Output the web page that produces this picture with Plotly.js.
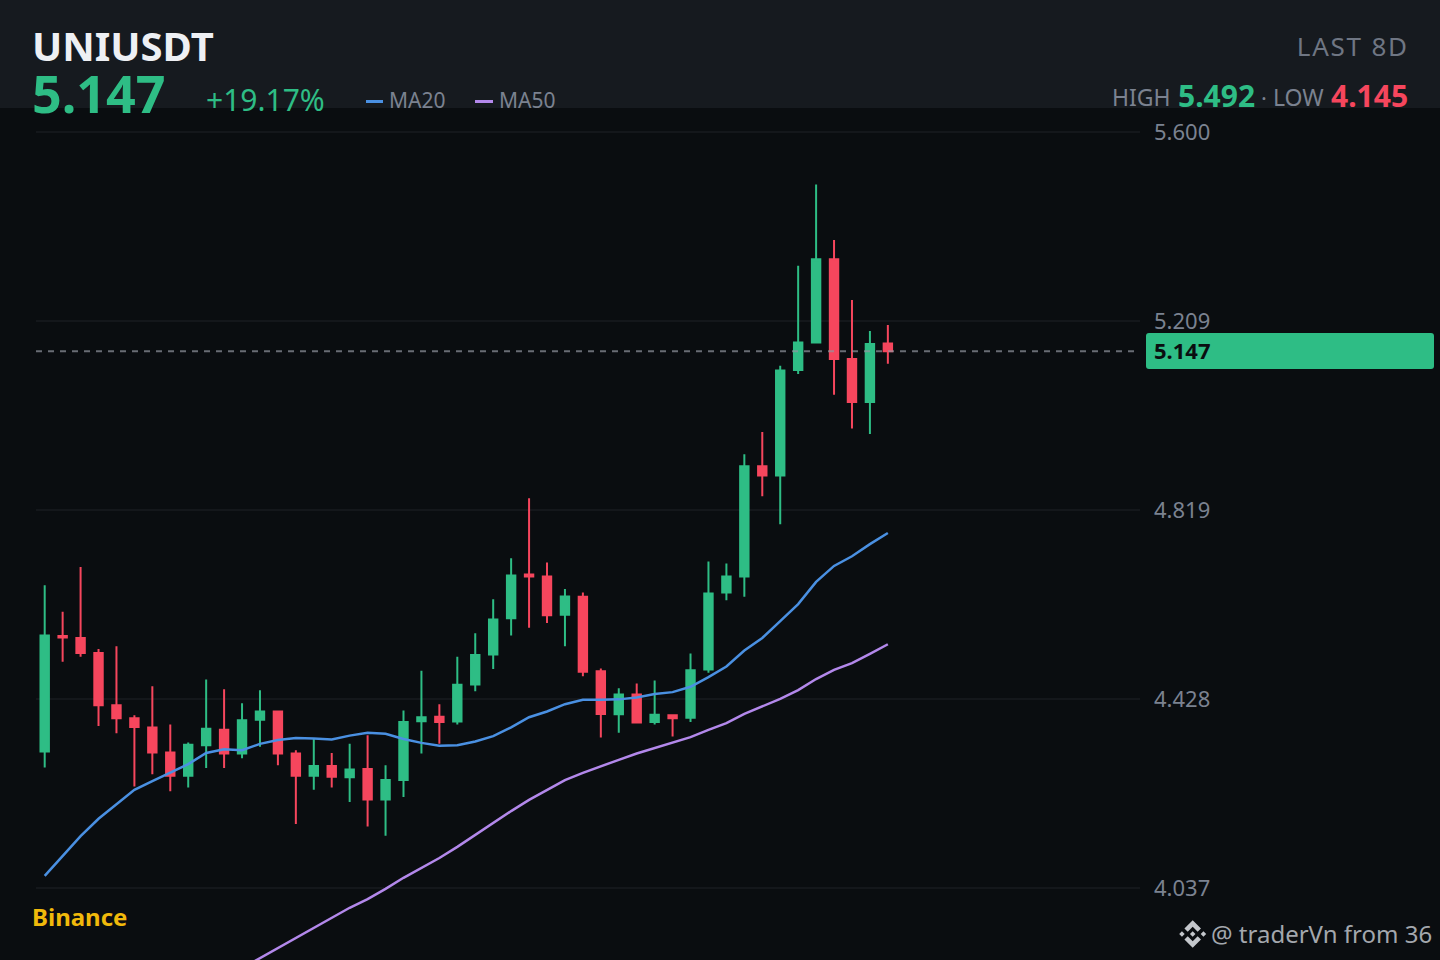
<!DOCTYPE html>
<html>
<head>
<meta charset="utf-8">
<script src="https://cdn.plot.ly/plotly-3.0.1.min.js"></script>
<style>
html,body{margin:0;padding:0;background:#0a0d10;overflow:hidden}
#chart{width:1440px;height:960px}
.annotation[data-index="8"] text{letter-spacing:1.8px}
</style>
</head>
<body>
<div id="chart"></div>
<script>
const symbol = "UNIUSDT";
const lastPrice = 5.147;
const changeText = "+19.17%";
const highValue = "5.492";
const lowValue = "4.145";
const tickValues = [5.600, 5.209, 4.819, 4.428, 4.037];
const tickLabels = ["5.600", "5.209", "4.819", "4.428", "4.037"];

const opens = [4.319,4.558,4.554,4.523,4.415,4.388,4.369,4.317,4.269,4.332,4.364,4.315,4.385,4.402,4.315,4.269,4.289,4.266,4.283,4.220,4.260,4.382,4.391,4.381,4.458,4.520,4.595,4.685,4.681,4.602,4.639,4.485,4.396,4.437,4.380,4.394,4.389,4.489,4.648,4.681,4.909,4.890,5.108,5.165,5.337,5.131,5.042,5.163];
const highs = [4.663,4.608,4.701,4.531,4.537,4.394,4.454,4.375,4.338,4.468,4.448,4.419,4.446,4.403,4.322,4.345,4.316,4.335,4.353,4.291,4.404,4.486,4.417,4.515,4.564,4.634,4.719,4.843,4.710,4.655,4.648,4.491,4.450,4.460,4.466,4.396,4.522,4.712,4.708,4.934,4.980,5.117,5.324,5.492,5.377,5.253,5.189,5.201];
const lows = [4.286,4.505,4.515,4.372,4.357,4.247,4.272,4.237,4.245,4.285,4.285,4.305,4.329,4.291,4.169,4.240,4.245,4.215,4.164,4.145,4.225,4.315,4.335,4.375,4.444,4.490,4.559,4.575,4.585,4.537,4.475,4.348,4.358,4.378,4.375,4.350,4.380,4.482,4.632,4.639,4.847,4.789,5.100,5.163,5.057,4.987,4.976,5.121];
const closes = [4.559,4.555,4.523,4.415,4.388,4.370,4.317,4.269,4.333,4.366,4.315,4.384,4.402,4.315,4.269,4.289,4.267,4.282,4.220,4.260,4.380,4.390,4.380,4.457,4.519,4.592,4.683,4.681,4.601,4.640,4.484,4.397,4.437,4.379,4.395,4.388,4.487,4.646,4.681,4.909,4.890,5.107,5.165,5.337,5.131,5.042,5.162,5.147];
const ma20 = [4.062,4.103,4.144,4.180,4.211,4.240,4.258,4.275,4.293,4.316,4.324,4.322,4.335,4.343,4.347,4.346,4.344,4.352,4.358,4.356,4.345,4.337,4.331,4.332,4.340,4.351,4.369,4.390,4.402,4.417,4.426,4.426,4.427,4.431,4.438,4.442,4.453,4.473,4.495,4.528,4.554,4.589,4.624,4.670,4.703,4.723,4.748,4.771];
const ma50 = [null,null,null,null,null,null,null,null,null,null,null,3.871,3.892,3.913,3.934,3.954,3.975,3.996,4.014,4.035,4.058,4.078,4.099,4.122,4.147,4.171,4.196,4.219,4.240,4.260,4.275,4.289,4.302,4.315,4.326,4.337,4.349,4.364,4.378,4.397,4.413,4.428,4.446,4.469,4.488,4.502,4.521,4.541];
const candleIndex = opens.map((_, i) => i);

const GREEN = "#2ebd85", RED = "#f6465d", BLUE = "#4a90e2", PURPLE = "#b388eb";
const BG = "#0a0d10", HEADER = "#161a1f", MUTED = "#7b8290";
const W = 1440, H = 960;
const px = x => x / W, py = y => 1 - y / H;

function poly(pts){
  return "M" + pts.map(p => px(p[0]).toFixed(6) + "," + py(p[1]).toFixed(6)).join(" L") + " Z";
}
function roundRect(x0,y0,x1,y1,r){
  const P=(x,y)=>px(x).toFixed(6)+","+py(y).toFixed(6);
  return "M"+P(x0+r,y0)+" L"+P(x1-r,y0)+" Q"+P(x1,y0)+" "+P(x1,y0+r)+" L"+P(x1,y1-r)+" Q"+P(x1,y1)+" "+P(x1-r,y1)+" L"+P(x0+r,y1)+" Q"+P(x0,y1)+" "+P(x0,y1-r)+" L"+P(x0,y0+r)+" Q"+P(x0,y0)+" "+P(x0+r,y0)+" Z";
}
function logoShapes(cx,cy,R,color){
  const map = pts => pts.map(p => [cx+p[0]*R, cy+p[1]*R]);
  const parts = [
    [[0,-1],[.6,-.4],[.36,-.16],[0,-.52],[-.36,-.16],[-.6,-.4]],
    [[0,1],[.6,.4],[.36,.16],[0,.52],[-.36,.16],[-.6,.4]],
    [[0,-.2],[.2,0],[0,.2],[-.2,0]],
    [[.78,-.2],[.98,0],[.78,.2],[.58,0]],
    [[-.78,-.2],[-.58,0],[-.78,.2],[-.98,0]]
  ];
  return parts.map(p => ({type:"path",xref:"paper",yref:"paper",layer:"above",path:poly(map(p)),fillcolor:color,line:{width:0}}));
}
function label(text,x,y,size,color,bold,anchor){
  return {text:bold?"<b>"+text+"</b>":text,xref:"paper",yref:"paper",x:px(x),y:py(y),xanchor:anchor||"left",yanchor:"middle",
    showarrow:false,borderpad:0,borderwidth:0,font:{family:"Noto Sans",size:size,color:color}};
}

const traces = [
  {type:"candlestick",x:candleIndex,open:opens,high:highs,low:lows,close:closes,whiskerwidth:0,
   increasing:{line:{color:GREEN,width:2},fillcolor:GREEN},
   decreasing:{line:{color:RED,width:2},fillcolor:RED},showlegend:false,hoverinfo:"skip"},
  {type:"scatter",mode:"lines",x:candleIndex,y:ma20,name:"MA20",line:{color:BLUE,width:2.5},showlegend:false,hoverinfo:"skip"},
  {type:"scatter",mode:"lines",x:candleIndex,y:ma50,name:"MA50",line:{color:PURPLE,width:2.5},connectgaps:false,showlegend:false,hoverinfo:"skip"}
];

const layout = {
  width:W,height:H,margin:{l:0,r:0,t:0,b:0},
  paper_bgcolor:BG,plot_bgcolor:BG,showlegend:false,boxgap:0.33,
  font:{family:"Noto Sans"},
  xaxis:{domain:[px(36),px(1140)],range:[-0.485,61.055],visible:false,fixedrange:true,rangeslider:{visible:false}},
  yaxis:{domain:[0,852/960],range:[3.888,5.650],side:"right",tickmode:"array",tickvals:tickValues,ticktext:tickLabels,
    ticks:"",ticklabelstandoff:13,tickfont:{family:"Noto Sans",size:22,color:MUTED},gridcolor:"#14171b",gridwidth:1.5,
    zeroline:false,showline:false,fixedrange:true},
  shapes:[
    {type:"rect",xref:"paper",yref:"paper",x0:0,x1:1,y0:py(108),y1:1,fillcolor:HEADER,line:{width:0},layer:"below"},
    {type:"line",xref:"paper",yref:"y",x0:px(36),x1:px(1136),y0:lastPrice,y1:lastPrice,layer:"above",line:{color:"rgba(145,150,160,0.7)",width:2,dash:"6px,6px"}},
    {type:"path",xref:"paper",yref:"paper",path:roundRect(1146,333,1434,369,3),fillcolor:GREEN,line:{width:0},layer:"above"},
    {type:"rect",xref:"paper",yref:"paper",x0:px(366),x1:px(383),y0:py(103),y1:py(100),fillcolor:BLUE,line:{width:0},layer:"above"},
    {type:"rect",xref:"paper",yref:"paper",x0:px(475),x1:px(493),y0:py(103),y1:py(100),fillcolor:PURPLE,line:{width:0},layer:"above"},
    ...logoShapes(1192.7,934,13.8,"#c4c7cc")
  ],
  annotations:[
    label(symbol,32,45,40,"#eef0f4",true),
    label(lastPrice.toFixed(3),32,92,52,GREEN,true),
    label(changeText,206,100,30,GREEN,false),
    label("MA20",389,100,21,MUTED,false),
    label("MA50",499,100,21,MUTED,false),
    label("Binance",32,916,24,"#f0b90b",true),
    label("@ traderVn from 36",1432,933,24,"#a3a7ad",false,"right"),
    label(lastPrice.toFixed(3),1154,350,22,"#0a0d10",true),
    label("LAST 8D",1303,46,26,"#6f7683",false),
    label("HIGH",1112,97,23,MUTED,false),
    label(highValue,1178,95,30,GREEN,true),
    label("·",1261,97,22,MUTED,false),
    label("LOW",1273,97,23,MUTED,false),
    label(lowValue,1331,95,30,RED,true)
  ]
};
Plotly.newPlot("chart",traces,layout,{displayModeBar:false,staticPlot:true});
</script>
</body>
</html>
